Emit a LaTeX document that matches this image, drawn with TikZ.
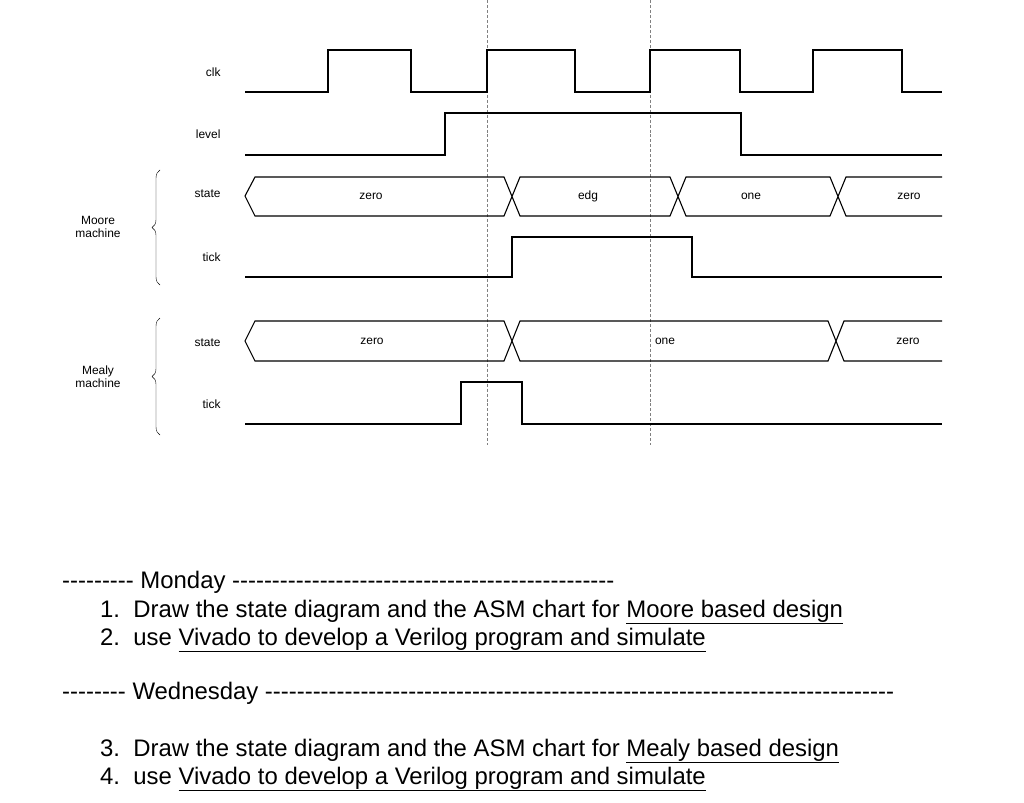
\documentclass[tikz,border=0pt]{standalone}
\usepackage{fontspec}
\setmainfont{Liberation Sans}
\newfontfamily\dashfont{Liberation Sans}
\usetikzlibrary{decorations.pathreplacing}
\newcommand{\hyph}[1]{\foreach \i in {1,...,#1}{-}}
\begin{document}
\begin{tikzpicture}[x=1bp,y=-1bp,
  wave/.style={line width=1.1pt},
  sig/.style={font=\fontsize{12}{13}\selectfont,anchor=east},
  st/.style={font=\fontsize{12}{13}\selectfont},
  txt/.style={font=\dashfont\fontsize{24}{26}\selectfont,anchor=base west,inner sep=0pt},
  guide/.style={densely dashed,line width=0.4pt,gray}]
\useasboundingbox (0,0) rectangle (1024,803);
% guide lines
\coordinate (g1t) at (487,0); \coordinate (g1b) at (487,445);
\coordinate (g2t) at (650,0); \coordinate (g2b) at (650,445);
\draw[guide] (g1t) -- (g1b);
\draw[guide] (g2t) -- (g2b);
% labels
\node[sig] (lclk) at (224,72) {clk};
\node[sig] (llev) at (224,134) {level};
\node[sig] (lst1) at (224,194) {state};
\node[sig] (ltk1) at (224,257) {tick};
\node[sig] (lst2) at (224,343) {state};
\node[sig] (ltk2) at (224,404) {tick};
\node[st,align=center] (moore) at (98,227) {Moore\\machine};
\node[st,align=center] (mealy) at (98,377) {Mealy\\machine};
\draw[decorate,decoration={brace,amplitude=8pt}] (160,285) -- (160,170);
\draw[decorate,decoration={brace,amplitude=8pt}] (160,435) -- (160,318);
% clk
\draw[wave] (245,92) -- (328,92) -- (328,50) -- (411,50) -- (411,92) -- (487,92) -- (487,50) -- (575,50) -- (575,92) -- (650,92) -- (650,50) -- (740,50) -- (740,92) -- (813,92) -- (813,50) -- (902,50) -- (902,92) -- (942,92);
% level
\draw[wave] (245,155) -- (445,155) -- (445,113) -- (741,113) -- (741,155) -- (942,155);
% Moore state
\draw[wave] (942,177) -- (846,177) -- (830,216) -- (686,216) -- (670,177) -- (520,177) -- (504,216) -- (255,216) -- (245,196) -- (255,177) -- (504,177) -- (520,216) -- (670,216) -- (686,177) -- (830,177) -- (846,216) -- (942,216);
\node[st] (s1) at (371,196) {zero};
\node[st] (s2) at (588,196) {edg};
\node[st] (s3) at (751,196) {one};
\node[st] (s4) at (909,196) {zero};
% Moore tick
\draw[wave] (245,277) -- (512,277) -- (512,237) -- (692,237) -- (692,277) -- (942,277);
% Mealy state
\draw[wave] (942,321) -- (844,321) -- (828,361) -- (520,361) -- (504,321) -- (255,321) -- (245,341) -- (255,361) -- (504,361) -- (520,321) -- (828,321) -- (844,361) -- (942,361);
\node[st] (m1) at (372,341) {zero};
\node[st] (m2) at (665,341) {one};
\node[st] (m3) at (908,341) {zero};
% Mealy tick
\draw[wave] (245,424) -- (461,424) -- (461,382) -- (522,382) -- (522,424) -- (942,424);
% text
\node[txt] (t0) at (62,588) {\hyph{9} Monday \hyph{48}};
\node[txt] (t1) at (100,617) {1.\ \ Draw the state diagram and the ASM chart for \underline{Moore based design}};
\node[txt] (t2) at (100,645) {2.\ \ use \underline{Vivado to develop a Verilog program and simulate}};
\node[txt] (t3) at (62,699) {\hyph{8} Wednesday \hyph{79}};
\node[txt] (t4) at (100,756) {3.\ \ Draw the state diagram and the ASM chart for \underline{Mealy based design}};
\node[txt] (t5) at (100,784) {4.\ \ use \underline{Vivado to develop a Verilog program and simulate}};
\end{tikzpicture}
\end{document}
